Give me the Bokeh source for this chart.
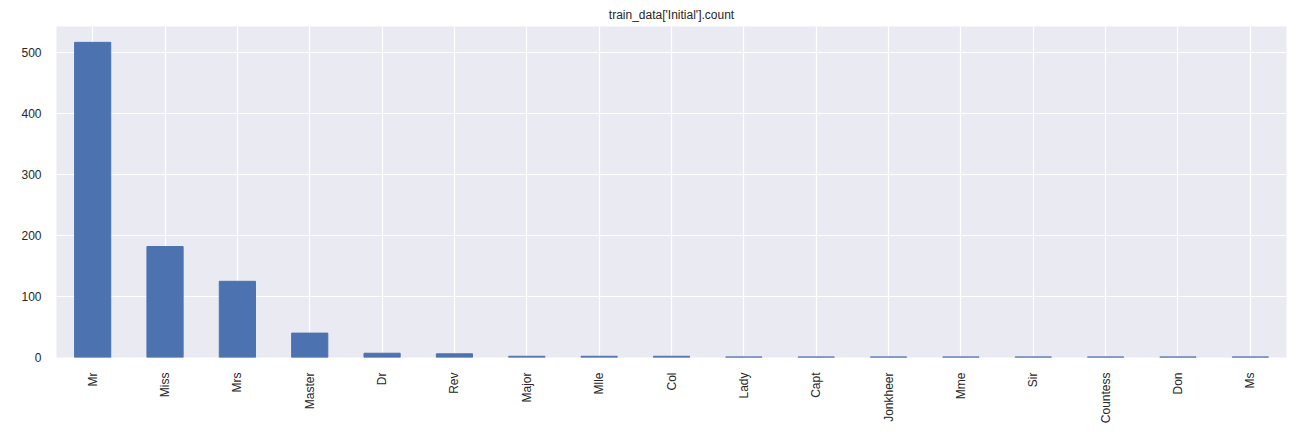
import math

from bokeh.embed import file_html
from bokeh.models import ColumnDataSource, FactorRange
from bokeh.plotting import figure
from bokeh.resources import INLINE

initials = ["Mr", "Miss", "Mrs", "Master", "Dr", "Rev", "Major", "Mlle", "Col",
            "Lady", "Capt", "Jonkheer", "Mme", "Sir", "Countess", "Don", "Ms"]
counts = [517, 182, 125, 40, 7, 6, 2, 2, 2, 1, 1, 1, 1, 1, 1, 1, 1]

source = ColumnDataSource(data=dict(initial=initials, count=counts))

p = figure(x_range=FactorRange(*initials, range_padding=0),
           y_range=(0, 543),
           frame_width=1230, frame_height=331,
           min_border_left=56, min_border_right=10, min_border_top=0,
           min_border_bottom=0,
           title="train_data['Initial'].count",
           output_backend="svg", toolbar_location=None)

p.vbar(x="initial", top="count", width=0.5, source=source,
       fill_color="#4C72B0", line_color="#4C72B0")

p.background_fill_color = "#EAEAF2"
p.border_fill_color = "white"
p.outline_line_color = None
p.grid.grid_line_color = "white"
p.grid.grid_line_width = 1.2

p.title.align = "center"
p.title.text_font = "Liberation Sans"
p.title.text_font_size = "12px"
p.title.text_font_style = "normal"
p.title.text_color = "#262626"
p.title.offset = 0

p.yaxis.ticker = [0, 100, 200, 300, 400, 500]
for ax in (p.xaxis, p.yaxis):
    ax.axis_line_color = None
    ax.major_tick_line_color = None
    ax.minor_tick_line_color = None
    ax.major_label_text_font = "Liberation Sans"
    ax.major_label_text_font_size = "12px"
    ax.major_label_text_color = "#262626"
    ax.major_label_standoff = 9
p.xaxis.major_label_orientation = math.pi / 2

open("out.html", "w").write(file_html(p, INLINE))
